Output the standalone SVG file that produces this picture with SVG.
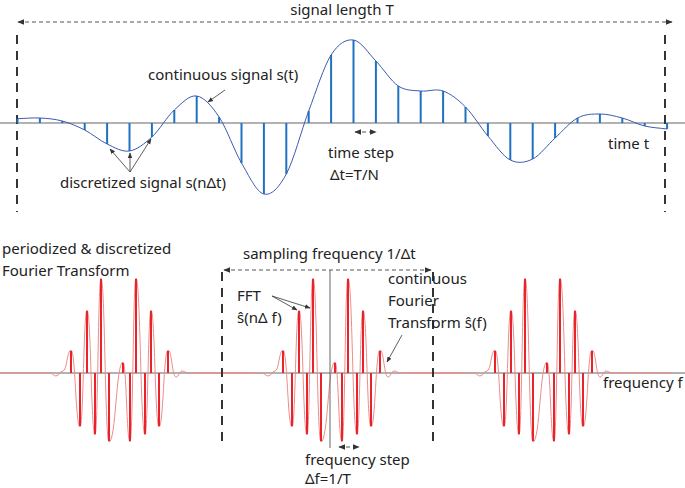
<svg xmlns="http://www.w3.org/2000/svg" xmlns:xlink="http://www.w3.org/1999/xlink" width="685" height="488" viewBox="0 0 685 488">
<style>
text{font-family:"Noto Sans","Open Sans",sans-serif;font-size:15px;fill:#222}
.ax{stroke:#999;stroke-width:1.5;fill:none}
.dv{stroke:#333;stroke-width:2;stroke-dasharray:9,7;fill:none}
.da{stroke:#555;stroke-width:1;stroke-dasharray:4,3;fill:none}
.pt{stroke:#333;stroke-width:0.8;fill:none}
.sig{stroke:#3a5bb0;stroke-width:1;fill:none}
.st{stroke:#1f72c0;stroke-width:2}
.fc{stroke:#f08a8a;stroke-width:1;fill:none}
.fs{stroke:#e8232b;stroke-width:2}
</style>
<defs>
<marker id="ah" viewBox="0 0 10 10" refX="9" refY="5" markerWidth="7" markerHeight="7" orient="auto-start-reverse"><path d="M0,1 L10,5 L0,9 z" fill="#333"/></marker>
<g id="spec">
<path class="fc" d="M200,373 L262,373 C265,373 265,376 268,376 C271.5,376 271.5,371 275,371 C279,371 279,350 283,350 C287.5,350 287.5,427 292,427 C295.5,427 295.5,310 299,310 C303,310 303,435 307,435 C310,435 310,278 313,278 C317,278 317,442 321,442 C328,442 328,362 335,362 C338.5,362 338.5,442 342,442 C345,442 345,278 348,278 C352.5,278 352.5,435 357,435 C360,435 360,310 363,310 C367,310 367,427 371,427 C375.5,427 375.5,350 380,350 C384,350 384,377 388,377 C391,377 391,371 394,371 C397,371 397,373 400,373 L460,373"/>
<path class="fs" d="M283,373V351 M292,373V426 M299,373V311 M307,373V434 M313,373V279 M321,373V441 M335,373V363 M342,373V441 M348,373V279 M357,373V434 M363,373V311 M371,373V426 M380,373V351"/>
</g>
</defs>
<g id="top">
<line class="ax" x1="0" y1="123" x2="685" y2="123"/>
<line class="dv" x1="17" y1="35" x2="17" y2="212"/>
<line class="dv" x1="665" y1="35" x2="665" y2="212"/>
<path class="st" d="M17.5,123V118.7 M39.9,123V118 M62.3,123V121 M84.7,123V130 M107.1,123V144 M129.5,123V151 M151.9,123V137 M174.3,123V110 M196.7,123V96 M219.1,123V117 M241.5,123V163 M263.9,123V194 M286.3,123V174 M308.7,123V111 M331.1,123V55 M353.5,123V40 M375.9,123V61 M398.3,123V86 M420.7,123V91 M443.1,123V91 M465.5,123V107 M487.9,123V136 M510.3,123V160 M532.7,123V159 M555.1,123V138 M577.5,123V118 M599.9,123V114 M622.3,123V118 M644.7,123V126 M667.1,123V129"/>
<path class="sig" d="M17.5,118.7 C25,118.5 32.4,117.6 39.9,118 S54.8,119 62.3,121 S77.2,126.2 84.7,130 S99.6,140.5 107.1,144 S122,152.2 129.5,151 S144.4,143.8 151.9,137 S166.8,116.8 174.3,110 S189.2,94.8 196.7,96 S211.6,105.8 219.1,117 S234,150.2 241.5,163 S256.4,192.2 263.9,194 S278.8,187.8 286.3,174 S301.2,130.8 308.7,111 S323.6,66.8 331.1,55 S346,39 353.5,40 S368.4,53.3 375.9,61 S390.8,81 398.3,86 S413.2,90.2 420.7,91 S435.6,88.3 443.1,91 S458,99.5 465.5,107 S480.4,127.2 487.9,136 S502.8,156.2 510.3,160 S525.2,162.7 532.7,159 S547.6,144.8 555.1,138 S570,122 577.5,118 S592.4,114 599.9,114 S614.8,116 622.3,118 S637.2,124.2 644.7,126 S659.6,128 667.1,129"/>
</g>
<g id="connectors">
<line class="da" x1="18" y1="22" x2="672" y2="22" marker-start="url(#ah)" marker-end="url(#ah)"/>
<line class="pt" x1="225" y1="90" x2="208" y2="102" marker-end="url(#ah)"/>
<line class="pt" x1="130" y1="172" x2="110" y2="149" marker-end="url(#ah)"/>
<line class="pt" x1="130" y1="172" x2="130" y2="153" marker-end="url(#ah)"/>
<line class="pt" x1="130" y1="172" x2="151" y2="139" marker-end="url(#ah)"/>
<line class="da" x1="355" y1="132" x2="376" y2="132" marker-start="url(#ah)" marker-end="url(#ah)"/>
<line class="da" x1="224" y1="270" x2="431" y2="270" marker-start="url(#ah)" marker-end="url(#ah)"/>
<line class="pt" x1="272" y1="296" x2="310" y2="308" marker-end="url(#ah)"/>
<line class="pt" x1="272" y1="296" x2="297" y2="310" marker-end="url(#ah)"/>
<line class="pt" x1="402" y1="335" x2="387" y2="362" marker-end="url(#ah)"/>
<line class="da" x1="339" y1="447" x2="359" y2="447" marker-start="url(#ah)" marker-end="url(#ah)"/>
</g>
<g id="bottom">
<line class="ax" x1="0" y1="373" x2="685" y2="373"/>
<use xlink:href="#spec" transform="translate(-212,0)"/>
<use xlink:href="#spec"/>
<use xlink:href="#spec" transform="translate(212,0)"/>
<line stroke="#666" stroke-width="1" x1="330" y1="270" x2="330" y2="448"/>
<line class="dv" x1="222" y1="272" x2="222" y2="442"/>
<line class="dv" x1="433" y1="272" x2="433" y2="442"/>
</g>
<g id="labels">
<text x="342" y="15" text-anchor="middle">signal length T</text>
<text x="148" y="80">continuous signal s(t)</text>
<text x="60" y="188">discretized signal s(nΔt)</text>
<text x="328" y="158">time step</text>
<text x="330" y="180">Δt=T/N</text>
<text x="608" y="149">time t</text>
<text x="2" y="254">periodized &amp; discretized</text>
<text x="2" y="276">Fourier Transform</text>
<text x="243" y="259">sampling frequency 1/Δt</text>
<text x="237" y="301">FFT</text>
<text x="237" y="323">ŝ(nΔ f)</text>
<text x="388" y="284">continuous</text>
<text x="388" y="306">Fourier</text>
<text x="388" y="328">Transform ŝ(f)</text>
<text x="603" y="388">frequency f</text>
<text x="305" y="465">frequency step</text>
<text x="305" y="484">Δf=1/T</text>
</g>
</svg>
